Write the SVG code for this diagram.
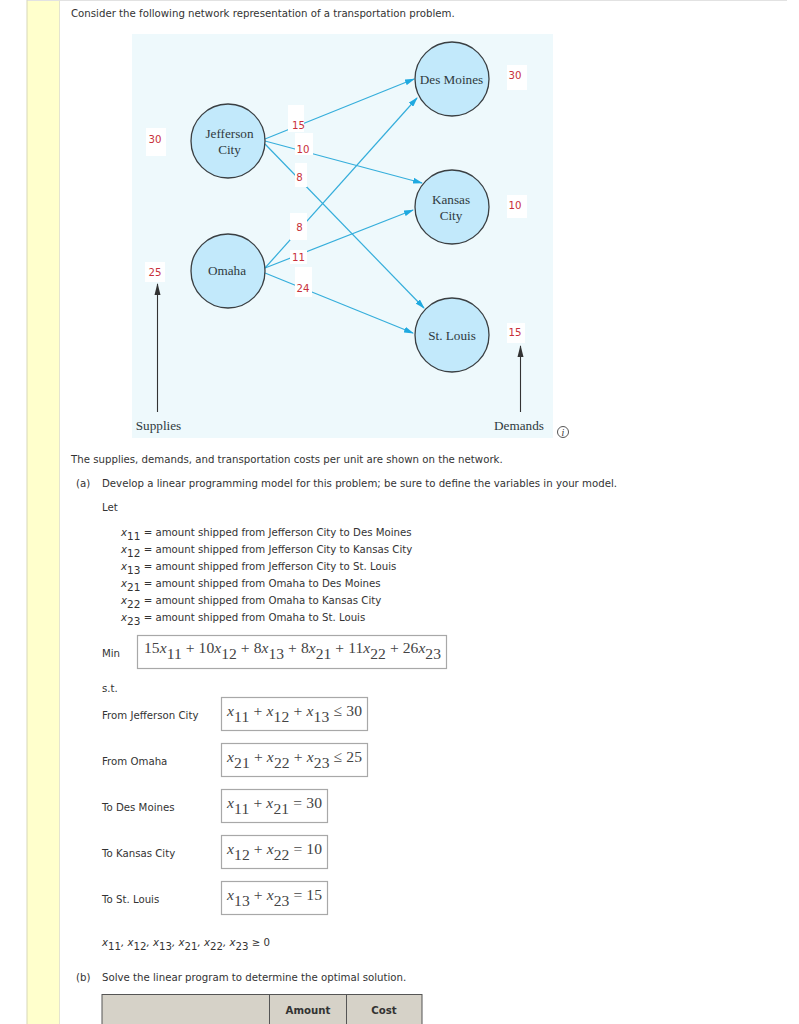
<svg xmlns="http://www.w3.org/2000/svg" width="799" height="1024" viewBox="0 0 799 1024">
<style>
.t{font-family:"DejaVu Sans",Verdana,sans-serif;font-size:10.2px;fill:#333}
.i{font-style:italic}
.s{font-size:10.5px}
.n{font-family:"Liberation Serif",serif;font-size:13.2px;fill:#2f3a40;text-anchor:middle}
.c{fill:#c2e9fb;stroke:#3a3f42;stroke-width:1.3}
.r{font-family:"DejaVu Sans",Verdana,sans-serif;font-size:10.2px;fill:#c8303a;text-anchor:middle}
.e{stroke:#35aedb;stroke-width:1.2;fill:none;marker-end:url(#b)}
.w{fill:#fff}
.m{font-family:"Liberation Serif",serif;font-size:15.6px;fill:#444}
.x{fill:#fff;stroke:#a8a8a8;stroke-width:1.2}
.h{font-family:"DejaVu Sans",Verdana,sans-serif;font-size:10.2px;font-weight:bold;fill:#333;text-anchor:middle}
</style>
<defs>
<marker id="b" markerWidth="10" markerHeight="6" refX="9" refY="3" orient="auto" markerUnits="userSpaceOnUse"><path d="M0 0L10 3L0 6z" fill="#1fa9e0"/></marker>
</defs>
<rect width="799" height="1024" fill="#fff"/>
<rect x="27" y="0" width="760" height="1" fill="#e2e2e2"/>
<rect x="27" y="1" width="32" height="1023" fill="#ffffcc"/>
<rect x="26.500" y="0" width="1" height="1024" fill="#d8d8b8"/>
<rect x="59" y="0" width="1" height="1024" fill="#e4e4d0"/>
<rect x="132" y="34" width="421" height="404" fill="#eef9fc"/>

<g id="connectors">
<path class="e" d="M265 139L414 79"/>
<path class="e" d="M265 141L422 183"/>
<path class="e" d="M265 144L424 308"/>
<path class="e" d="M265 268L417 98"/>
<path class="e" d="M265 268L413 210"/>
<path class="e" d="M265 273L413 333"/>
<path d="M157.500 412V284" stroke="#333" stroke-width="1.1"/>
<path d="M157.500 283L154.500 295H160.500z" fill="#333"/>
<path d="M520.500 412V346" stroke="#333" stroke-width="1.1"/>
<path d="M520.500 345L517.500 357H523.500z" fill="#333"/>
</g>

<g id="labels">
<rect class="w" x="288" y="105" width="16" height="27"/><text class="r" x="298.500" y="129">15</text>
<rect class="w" x="295" y="133" width="18" height="22"/><text class="r" x="303" y="153">10</text>
<rect class="w" x="295" y="163" width="12" height="24"/><text class="r" x="299.500" y="181">8</text>
<rect class="w" x="290" y="213" width="17" height="27"/><text class="r" x="299.500" y="231">8</text>
<rect class="w" x="290" y="250" width="17" height="14"/><text class="r" x="298.500" y="261">11</text>
<rect class="w" x="295" y="267" width="17" height="30"/><text class="r" x="303" y="292">24</text>
<rect class="w" x="146" y="128" width="20" height="28"/><text class="r" x="155" y="143">30</text>
<rect class="w" x="145" y="262" width="20" height="20"/><text class="r" x="155" y="276">25</text>
<rect class="w" x="507" y="65" width="20" height="25"/><text class="r" x="515" y="79">30</text>
<rect class="w" x="507" y="195" width="20" height="23"/><text class="r" x="515" y="209">10</text>
<rect class="w" x="507" y="323" width="18" height="20"/><text class="r" x="515" y="336">15</text>
<text class="n" x="158.500" y="430">Supplies</text>
<text class="n" x="519" y="430">Demands</text>
</g>

<g id="jefferson"><circle class="c" cx="228" cy="141" r="37"/><text class="n" x="229.500" y="138">Jefferson</text><text class="n" x="229.500" y="154">City</text></g>
<g id="omaha"><circle class="c" cx="228" cy="271" r="37"/><text class="n" x="227" y="275">Omaha</text></g>
<g id="des-moines"><circle class="c" cx="452" cy="79" r="37"/><text class="n" x="451.500" y="84">Des Moines</text></g>
<g id="kansas"><circle class="c" cx="452" cy="207" r="37"/><text class="n" x="451" y="204">Kansas</text><text class="n" x="451" y="220">City</text></g>
<g id="st-louis"><circle class="c" cx="452" cy="335" r="37"/><text class="n" x="452" y="340">St. Louis</text></g>

<g id="info"><circle cx="563" cy="432" r="5.500" fill="#fff" stroke="#555" stroke-width="1"/><text x="563" y="435.500" font-family="Liberation Serif,serif" font-style="italic" font-size="10" fill="#333" text-anchor="middle">i</text></g>

<text class="t" x="71" y="17">Consider the following network representation of a transportation problem.</text>
<text class="t" x="71" y="463">The supplies, demands, and transportation costs per unit are shown on the network.</text>
<text class="t" x="76" y="487">(a)</text>
<text class="t" x="102" y="487">Develop a linear programming model for this problem; be sure to define the variables in your model.</text>
<text class="t" x="102" y="511">Let</text>

<text class="t" x="121" y="536"><tspan class="i">x</tspan><tspan dy="3.500" class="s">11</tspan><tspan dy="-3.500"> = amount shipped from Jefferson City to Des Moines</tspan></text>
<text class="t" x="121" y="553"><tspan class="i">x</tspan><tspan dy="3.500" class="s">12</tspan><tspan dy="-3.500"> = amount shipped from Jefferson City to Kansas City</tspan></text>
<text class="t" x="121" y="570"><tspan class="i">x</tspan><tspan dy="3.500" class="s">13</tspan><tspan dy="-3.500"> = amount shipped from Jefferson City to St. Louis</tspan></text>
<text class="t" x="121" y="587"><tspan class="i">x</tspan><tspan dy="3.500" class="s">21</tspan><tspan dy="-3.500"> = amount shipped from Omaha to Des Moines</tspan></text>
<text class="t" x="121" y="604"><tspan class="i">x</tspan><tspan dy="3.500" class="s">22</tspan><tspan dy="-3.500"> = amount shipped from Omaha to Kansas City</tspan></text>
<text class="t" x="121" y="621"><tspan class="i">x</tspan><tspan dy="3.500" class="s">23</tspan><tspan dy="-3.500"> = amount shipped from Omaha to St. Louis</tspan></text>

<text class="t" x="102" y="657">Min</text>
<rect class="x" x="137.500" y="635.500" width="309" height="33"/>
<text class="m" x="144" y="653" textLength="297">15<tspan class="i">x</tspan><tspan dy="6">11</tspan><tspan dy="-6"> + 10</tspan><tspan class="i">x</tspan><tspan dy="6">12</tspan><tspan dy="-6"> + 8</tspan><tspan class="i">x</tspan><tspan dy="6">13</tspan><tspan dy="-6"> + 8</tspan><tspan class="i">x</tspan><tspan dy="6">21</tspan><tspan dy="-6"> + 11</tspan><tspan class="i">x</tspan><tspan dy="6">22</tspan><tspan dy="-6"> + 26</tspan><tspan class="i">x</tspan><tspan dy="6">23</tspan></text>

<text class="t" x="102" y="692">s.t.</text>
<text class="t" x="102" y="719">From Jefferson City</text>
<rect class="x" x="221.500" y="697.500" width="146" height="33"/>
<text class="m" x="227" y="716" textLength="135"><tspan class="i">x</tspan><tspan dy="6">11</tspan><tspan dy="-6"> + </tspan><tspan class="i">x</tspan><tspan dy="6">12</tspan><tspan dy="-6"> + </tspan><tspan class="i">x</tspan><tspan dy="6">13</tspan><tspan dy="-6"> ≤ 30</tspan></text>
<text class="t" x="102" y="765">From Omaha</text>
<rect class="x" x="221.500" y="743.500" width="146" height="33"/>
<text class="m" x="227" y="762" textLength="135"><tspan class="i">x</tspan><tspan dy="6">21</tspan><tspan dy="-6"> + </tspan><tspan class="i">x</tspan><tspan dy="6">22</tspan><tspan dy="-6"> + </tspan><tspan class="i">x</tspan><tspan dy="6">23</tspan><tspan dy="-6"> ≤ 25</tspan></text>
<text class="t" x="102" y="811">To Des Moines</text>
<rect class="x" x="221.500" y="789.500" width="106" height="33"/>
<text class="m" x="227" y="808" textLength="95"><tspan class="i">x</tspan><tspan dy="6">11</tspan><tspan dy="-6"> + </tspan><tspan class="i">x</tspan><tspan dy="6">21</tspan><tspan dy="-6"> = 30</tspan></text>
<text class="t" x="102" y="857">To Kansas City</text>
<rect class="x" x="221.500" y="835.500" width="106" height="33"/>
<text class="m" x="227" y="854" textLength="95"><tspan class="i">x</tspan><tspan dy="6">12</tspan><tspan dy="-6"> + </tspan><tspan class="i">x</tspan><tspan dy="6">22</tspan><tspan dy="-6"> = 10</tspan></text>
<text class="t" x="102" y="903">To St. Louis</text>
<rect class="x" x="221.500" y="881.500" width="106" height="33"/>
<text class="m" x="227" y="900" textLength="95"><tspan class="i">x</tspan><tspan dy="6">13</tspan><tspan dy="-6"> + </tspan><tspan class="i">x</tspan><tspan dy="6">23</tspan><tspan dy="-6"> = 15</tspan></text>

<text class="t" x="102" y="946"><tspan class="i">x</tspan><tspan dy="3.500">11</tspan><tspan dy="-3.500" class="i">, </tspan><tspan class="i">x</tspan><tspan dy="3.500">12</tspan><tspan dy="-3.500" class="i">, </tspan><tspan class="i">x</tspan><tspan dy="3.500">13</tspan><tspan dy="-3.500" class="i">, </tspan><tspan class="i">x</tspan><tspan dy="3.500">21</tspan><tspan dy="-3.500" class="i">, </tspan><tspan class="i">x</tspan><tspan dy="3.500">22</tspan><tspan dy="-3.500" class="i">, </tspan><tspan class="i">x</tspan><tspan dy="3.500">23</tspan><tspan dy="-3.500"> ≥ 0</tspan></text>

<text class="t" x="76" y="981">(b)</text>
<text class="t" x="102" y="981">Solve the linear program to determine the optimal solution.</text>

<g id="table">
<rect x="102" y="994.500" width="320" height="40" fill="#d6d2c8" stroke="#555" stroke-width="1"/>
<path d="M269.500 994V1024M346.500 994V1024" stroke="#555" stroke-width="1"/>
<text class="h" x="308" y="1014">Amount</text>
<text class="h" x="384" y="1014">Cost</text>
</g>
</svg>
